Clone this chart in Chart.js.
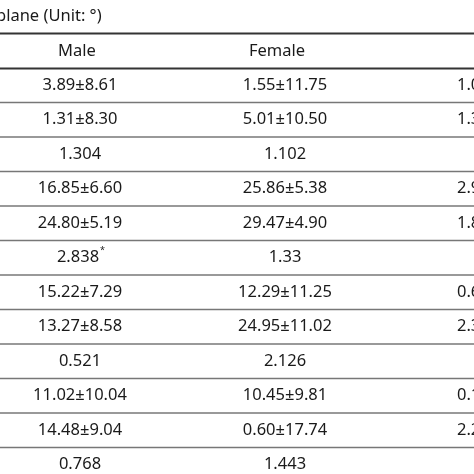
<!DOCTYPE html>
<html>
<head>
<meta charset="utf-8">
<script src="https://cdn.jsdelivr.net/npm/chart.js@4"></script>
<style>
  html, body { margin: 0; padding: 0; background: #fff; }
  #wrap { width: 474px; height: 474px; }
</style>
</head>
<body>
<div id="wrap"><canvas id="tbl" width="474" height="474"></canvas></div>
<script>
const title = 'plane (Unit: °)';
const headers = ['Male', 'Female'];
const maleValues = ['3.89±8.61', '1.31±8.30', '1.304', '16.85±6.60', '24.80±5.19', '2.838*',
                    '15.22±7.29', '13.27±8.58', '0.521', '11.02±10.04', '14.48±9.04', '0.768'];
const femaleValues = ['1.55±11.75', '5.01±10.50', '1.102', '25.86±5.38', '29.47±4.90', '1.33',
                      '12.29±11.25', '24.95±11.02', '2.126', '10.45±9.81', '0.60±17.74', '1.443'];
const thirdValues = ['1.0', '1.3', '', '2.9', '1.8', '', '0.6', '2.3', '', '0.1', '2.2', ''];

// layout in scale units (== px here)
const ROW0 = 85, PITCH = 34.5, HEAD_Y = 51;
const COL_MALE = 80, COL_FEMALE = 285, COL_THIRD = 457;
const FONT = '"Noto Sans", "Open Sans", sans-serif';
const SIZE = '16.5px ';

const tablePlugin = {
    id: 'tablePlugin',
    afterDraw(chart) {
        const ctx = chart.ctx, xs = chart.scales.x, ys = chart.scales.y;
        const X = v => xs.getPixelForValue(v), Y = v => ys.getPixelForValue(v);
        ctx.save();
        ctx.fillStyle = '#1a1a1a';
        ctx.textBaseline = 'middle';
        ctx.font = SIZE + FONT;
        ctx.textAlign = 'left';
        ctx.fillText(title, X(-4), Y(16));

        const line = (y, w, c) => {
            ctx.beginPath(); ctx.strokeStyle = c; ctx.lineWidth = w;
            ctx.moveTo(X(0), Y(y)); ctx.lineTo(X(474), Y(y)); ctx.stroke();
        };
        line(33.5, 2, '#333');
        line(68.5, 2, '#333');
        maleValues.forEach((_, i) => { if (i < maleValues.length - 1) line(ROW0 + PITCH * i + 17.5, 1.3, '#777'); });

        ctx.textAlign = 'center';
        ctx.fillText(headers[0], X(77), Y(HEAD_Y));
        ctx.fillText(headers[1], X(277), Y(HEAD_Y));

        maleValues.forEach((v, i) => {
            const y = Y(ROW0 + PITCH * i);
            const put = (s, x, align) => {
                ctx.textAlign = align;
                if (s.endsWith('*')) {
                    const base = s.slice(0, -1);
                    ctx.font = SIZE + FONT;
                    const w = ctx.measureText(base).width;
                    ctx.fillText(base, x - 2, y);
                    ctx.font = '9px ' + FONT;
                    ctx.textAlign = 'left';
                    ctx.fillText('*', x - 1 + w / 2, y - 7);
                    ctx.font = SIZE + FONT;
                } else {
                    ctx.fillText(s, x, y);
                }
            };
            put(v, X(COL_MALE), 'center');
            put(femaleValues[i], X(COL_FEMALE), 'center');
            put(thirdValues[i], X(COL_THIRD), 'left');
        });
        ctx.restore();
    }
};

new Chart(document.getElementById('tbl'), {
    type: 'scatter',
    data: { datasets: [{ data: [], pointRadius: 0 }] },
    options: {
        responsive: false,
        animation: false,
        layout: { padding: 0 },
        plugins: { legend: { display: false }, tooltip: { enabled: false } },
        scales: {
            x: { type: 'linear', min: 0, max: 474, display: false },
            y: { type: 'linear', min: 0, max: 474, reverse: true, display: false }
        }
    },
    plugins: [tablePlugin]
});
</script>
</body>
</html>
